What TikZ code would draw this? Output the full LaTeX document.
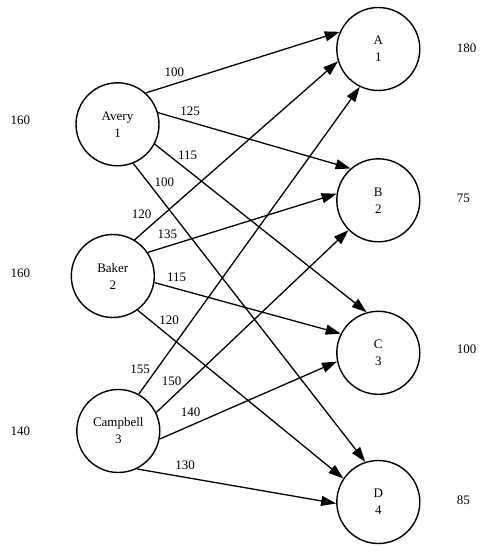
\documentclass[tikz,border=0pt]{standalone}
\usepackage{fontspec}
\setmainfont{Liberation Serif}
\usetikzlibrary{arrows.meta}
\begin{document}
\begin{tikzpicture}[x=1pt,y=-1pt,
  nd/.style={circle,draw,line width=1.4pt,minimum size=83pt,inner sep=0pt,align=center,font=\fontsize{13}{17}\selectfont},
  arr/.style={line width=1.3pt,-{Triangle[length=15pt,width=10pt]}},
  lbl/.style={inner sep=0pt,font=\fontsize{13}{15}\selectfont}]
\useasboundingbox (0,0) rectangle (493,553);
\node[nd] (av) at (117.5,124.3) {Avery\\1};
\node[nd] (ba) at (112.8,276) {Baker\\2};
\node[nd] (ca) at (118.3,431) {Campbell\\3};
\node[nd] (A) at (378.3,49) {A\\1};
\node[nd] (B) at (378.3,200.3) {B\\2};
\node[nd] (C) at (378.3,352.8) {C\\3};
\node[nd] (D) at (378.3,502) {D\\4};
\draw[arr] (av.48) -- (A.156);
\draw[arr] (av.16) -- (B.131);
\draw[arr] (av.-28) -- (C.106);
\draw[arr] (av.-68) -- (D.108);
\draw[arr] (ba.59) -- (A.197);
\draw[arr] (ba.34) -- (B.171);
\draw[arr] (ba.-9) -- (C.153);
\draw[arr] (ba.-54) -- (D.146);
\draw[arr] (ca.61) -- (A.244);
\draw[arr] (ca.26) -- (B.225);
\draw[arr] (ca.-11) -- (C.192);
\draw[arr] (ca.-64) -- (D.182);
\node[lbl] (l1) at (174.3,72.3) {100};
\node[lbl] (l2) at (190,111.7) {125};
\node[lbl] (l3) at (187.7,155) {115};
\node[lbl] (l4) at (164.3,182.3) {100};
\node[lbl] (l5) at (141.7,214) {120};
\node[lbl] (l6) at (167.3,234) {135};
\node[lbl] (l7) at (176.7,277.3) {115};
\node[lbl] (l8) at (169,320) {120};
\node[lbl] (l9) at (140,369) {155};
\node[lbl] (l10) at (171.7,381) {150};
\node[lbl] (l11) at (190.7,412.7) {140};
\node[lbl] (l12) at (185,465) {130};
\node[lbl] (s1) at (20.3,120.5) {160};
\node[lbl] (s2) at (20.3,273) {160};
\node[lbl] (s3) at (20.3,431) {140};
\node[lbl] (d1) at (466.7,48.3) {180};
\node[lbl] (d2) at (463.3,198.3) {75};
\node[lbl] (d3) at (466.7,349) {100};
\node[lbl] (d4) at (463.3,500) {85};
\end{tikzpicture}
\end{document}
